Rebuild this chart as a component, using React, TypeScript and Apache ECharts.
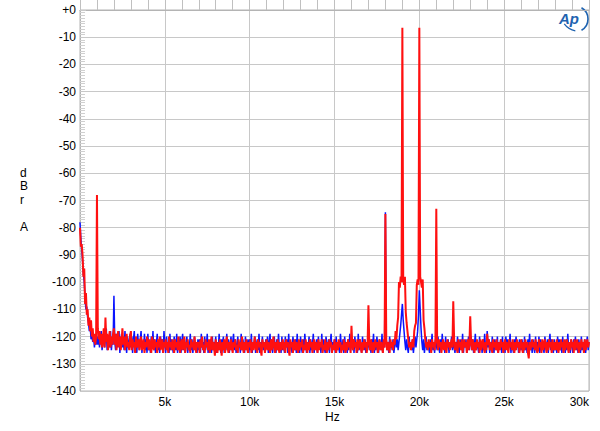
import React, { useEffect, useRef } from "react";
import * as echarts from "echarts";

// Frequency step of the FFT arrays (Hz); each array index i is at i * STEP_HZ
const STEP_HZ = 50;

const X_TICKS = [5000, 10000, 15000, 20000, 25000, 30000];

// Red channel (dBrA), 0 Hz .. 30 kHz, 50 Hz apart (20 values per kHz row)
const redDb: number[] = [
  -80, -87, -86, -90, -98, -95, -108, -104, -112, -110, -116, -113, -118, -114, -120, -117, -122, -119, -123, -120,
  -68, -117, -121, -118, -123, -119, -124, -121, -117, -124, -113, -122, -119, -125, -121, -118, -124, -120, -123, -119,
  -117, -123, -119, -125, -121, -118, -124, -120, -125, -122, -117, -123, -120, -125, -121, -119, -124, -122, -125, -120,
  -118, -125, -121, -124, -122, -126, -120, -124, -123, -121, -125, -122, -120, -125, -123, -121, -126, -122, -124, -120,
  -122, -125, -121, -124, -126, -120, -123, -125, -121, -124, -122, -126, -121, -124, -120, -125, -123, -121, -126, -122,
  -124, -121, -125, -122, -126, -120, -124, -122, -125, -121, -123, -126, -121, -124, -122, -125, -120, -124, -126, -122,
  -121, -125, -123, -120, -126, -122, -124, -121, -125, -123, -126, -121, -124, -122, -125, -120, -124, -126, -122, -124,
  -122, -126, -121, -124, -120, -125, -123, -126, -121, -124, -122, -125, -121, -126, -123, -120, -125, -122, -124, -127,
  -121, -124, -126, -122, -125, -121, -124, -127, -122, -125, -121, -126, -123, -120, -124, -126, -122, -125, -121, -124,
  -126, -122, -124, -121, -125, -123, -126, -121, -124, -122, -125, -120, -124, -126, -122, -125, -121, -124, -126, -122,
  -124, -121, -126, -122, -125, -123, -120, -125, -122, -126, -121, -124, -122, -125, -127, -121, -124, -122, -126, -123,
  -121, -125, -122, -124, -126, -121, -125, -123, -120, -124, -126, -122, -125, -121, -124, -126, -122, -125, -123, -121,
  -125, -122, -126, -121, -124, -122, -125, -127, -121, -124, -122, -126, -123, -121, -125, -122, -124, -126, -121, -125,
  -122, -124, -121, -126, -123, -125, -121, -124, -126, -122, -125, -121, -124, -122, -126, -123, -121, -125, -122, -124,
  -126, -121, -125, -122, -124, -121, -126, -123, -125, -121, -124, -126, -122, -125, -121, -124, -122, -126, -123, -125,
  -121, -124, -126, -122, -125, -121, -124, -122, -126, -123, -125, -121, -124, -126, -122, -125, -121, -124, -122, -126,
  -116, -123, -125, -121, -124, -122, -126, -121, -125, -123, -121, -124, -126, -122, -125, -121, -124, -122, -126, -123,
  -108.5, -122, -125, -121, -124, -126, -122, -125, -121, -124, -122, -126, -123, -121, -125, -122, -124, -126, -121, -124,
  -75, -121, -125, -122, -124, -126, -121, -124, -122, -125, -121, -123, -118, -121, -116, -113, -100, -102, -98, -100,
  -6.5, -99, -101, -98, -111, -115, -118, -121, -124, -122, -125, -123, -121, -124, -118, -116, -115, -101, -99, -101,
  -6.5, -98, -100, -102, -99, -114, -117, -121, -124, -122, -125, -121, -124, -122, -126, -121, -124, -122, -125, -121,
  -73, -122, -125, -121, -124, -122, -126, -123, -121, -125, -122, -124, -126, -121, -124, -122, -125, -123, -121, -124,
  -107, -121, -125, -122, -124, -126, -121, -124, -122, -125, -121, -126, -123, -121, -124, -122, -126, -121, -125, -123,
  -112.5, -122, -125, -121, -124, -126, -122, -125, -121, -124, -122, -126, -121, -125, -123, -121, -124, -126, -122, -125,
  -119, -123, -121, -125, -122, -124, -126, -121, -124, -122, -125, -121, -124, -126, -122, -125, -121, -124, -122, -126,
  -123, -121, -125, -122, -124, -126, -121, -124, -122, -125, -121, -124, -126, -122, -125, -121, -124, -122, -126, -123,
  -121, -124, -126, -122, -125, -121, -124, -122, -126, -128, -122, -125, -123, -121, -124, -122, -125, -121, -124, -126,
  -125, -121, -124, -122, -126, -121, -125, -123, -121, -124, -126, -122, -125, -121, -124, -122, -126, -121, -124, -125,
  -122, -125, -121, -124, -126, -122, -125, -121, -124, -122, -126, -121, -125, -123, -121, -124, -126, -122, -125, -121,
  -124, -122, -126, -121, -125, -123, -121, -124, -126, -122, -125, -121, -124, -122, -126, -121, -125, -123, -121, -124,
  -122,
];

// Blue channel (dBrA), 0 Hz .. 30 kHz, 50 Hz apart (20 values per kHz row)
const blueDb: number[] = [
  -78, -84, -88, -92, -97, -100, -106, -110, -109, -113, -115, -118, -116, -121, -119, -122, -120, -124, -121, -123,
  -120, -123, -119, -124, -121, -118, -125, -122, -119, -124, -121, -117, -125, -122, -120, -124, -118, -125, -121, -123,
  -105, -122, -125, -119, -124, -121, -118, -126, -122, -119, -124, -121, -125, -118, -123, -126, -120, -124, -122, -119,
  -124, -120, -126, -121, -118, -125, -122, -126, -119, -123, -125, -121, -118, -126, -122, -124, -119, -125, -121, -126,
  -119, -125, -122, -126, -120, -124, -118, -125, -121, -126, -123, -119, -125, -122, -126, -120, -124, -121, -126, -118,
  -123, -126, -120, -124, -122, -126, -119, -125, -121, -124, -126, -120, -123, -125, -119, -126, -122, -124, -120, -126,
  -122, -119, -125, -121, -126, -123, -120, -126, -122, -124, -119, -125, -121, -126, -123, -120, -125, -122, -126, -121,
  -125, -121, -126, -119, -124, -122, -126, -120, -125, -123, -119, -126, -122, -124, -121, -126, -120, -125, -122, -124,
  -120, -126, -122, -125, -119, -124, -126, -121, -123, -120, -126, -122, -125, -119, -124, -121, -126, -123, -120, -125,
  -122, -119, -125, -121, -126, -123, -120, -124, -122, -126, -119, -125, -121, -124, -126, -120, -123, -125, -121, -126,
  -121, -125, -119, -126, -122, -124, -120, -126, -123, -121, -125, -119, -126, -122, -124, -120, -125, -122, -126, -121,
  -124, -120, -126, -122, -119, -125, -121, -126, -123, -120, -124, -126, -121, -125, -119, -124, -122, -126, -120, -125,
  -122, -126, -120, -124, -121, -126, -119, -125, -122, -124, -126, -120, -123, -125, -121, -126, -119, -124, -122, -126,
  -120, -124, -126, -121, -125, -119, -123, -126, -122, -124, -120, -126, -121, -125, -123, -119, -126, -122, -124, -121,
  -126, -120, -124, -122, -126, -119, -125, -121, -124, -126, -120, -123, -125, -121, -126, -122, -119, -125, -122, -124,
  -121, -126, -120, -125, -122, -124, -126, -119, -123, -125, -121, -126, -120, -124, -122, -126, -121, -125, -119, -124,
  -122, -125, -121, -126, -120, -124, -122, -126, -119, -125, -121, -124, -126, -120, -123, -125, -121, -126, -122, -124,
  -120, -125, -122, -126, -121, -124, -119, -126, -122, -125, -120, -124, -126, -121, -123, -125, -119, -126, -122, -124,
  -74.3, -121, -125, -122, -126, -120, -124, -122, -125, -121, -126, -123, -120, -124, -121, -125, -122, -119, -116, -112,
  -108, -114, -118, -122, -125, -121, -124, -126, -120, -124, -122, -125, -121, -126, -123, -120, -124, -121, -118, -112,
  -103, -110, -117, -122, -125, -121, -126, -123, -120, -125, -122, -124, -126, -121, -124, -119, -125, -122, -126, -121,
  -123, -125, -120, -124, -126, -121, -125, -119, -124, -122, -126, -120, -125, -123, -121, -126, -122, -124, -120, -125,
  -121, -124, -126, -122, -125, -120, -124, -126, -121, -123, -125, -119, -126, -122, -124, -121, -126, -123, -120, -125,
  -122, -120, -125, -121, -126, -123, -119, -125, -122, -124, -126, -120, -124, -122, -126, -121, -125, -119, -124, -126,
  -118, -124, -121, -126, -122, -125, -120, -124, -126, -121, -123, -125, -120, -126, -122, -124, -121, -126, -120, -125,
  -122, -126, -120, -124, -121, -125, -123, -119, -126, -122, -124, -126, -121, -125, -120, -124, -122, -126, -121, -124,
  -125, -121, -124, -126, -120, -125, -122, -126, -121, -124, -119, -125, -122, -126, -121, -124, -126, -120, -125, -122,
  -124, -120, -126, -121, -125, -122, -124, -126, -120, -123, -125, -121, -126, -122, -119, -125, -121, -124, -126, -121,
  -125, -122, -126, -120, -124, -121, -125, -123, -126, -120, -124, -122, -126, -121, -125, -119, -124, -122, -126, -121,
  -123, -126, -121, -124, -120, -125, -122, -126, -121, -124, -126, -120, -125, -122, -124, -121, -126, -123, -120, -125,
  -122,
];

const toPairs = (arr: number[]) => arr.map((v, i) => [i * STEP_HZ, v]);

const FONT = "'Liberation Sans', Arial, sans-serif";

export default function App() {
  const ref = useRef<HTMLDivElement>(null);

  useEffect(() => {
    document.body.style.margin = "0";
    if (!ref.current) return;
    const chart = echarts.init(ref.current, undefined, { renderer: "svg" });
    const gridColor = "#c8c8c8";
    chart.setOption({
      animation: false,
      backgroundColor: "#ffffff",
      textStyle: { fontFamily: FONT },
      grid: {
        left: 80,
        right: 11,
        top: 10,
        bottom: 40,
        show: true,
        borderColor: "#b4b4b4",
        borderWidth: 1,
        backgroundColor: "transparent",
      },
      xAxis: {
        type: "value",
        min: 0,
        max: 30000,
        interval: 5000,
        axisLine: { show: true, lineStyle: { color: "#b4b4b4" } },
        axisTick: {
          show: true,
          inside: true,
          length: 14,
          lineStyle: { color: "#c0c0c0", width: 1 },
        },
        minorTick: {
          show: true,
          splitNumber: 5,
          length: 14,
          lineStyle: { color: "#c0c0c0", width: 1 },
        },
        splitLine: { show: true, lineStyle: { color: gridColor, width: 1 } },
        axisLabel: {
          color: "#000",
          fontSize: 12,
          fontFamily: FONT,
          margin: 5,
          alignMaxLabel: "right",
          showMinLabel: false,
          formatter: (v: number) => (X_TICKS.includes(v) ? `${v / 1000}k` : ""),
        },
      },
      yAxis: {
        type: "value",
        min: -140,
        max: 0,
        interval: 10,
        axisLine: { show: true, lineStyle: { color: "#b4b4b4" } },
        axisTick: {
          show: true,
          inside: true,
          length: 6,
          lineStyle: { color: "#c8c8c8" },
        },
        minorTick: {
          show: true,
          splitNumber: 10,
          length: 5,
          lineStyle: { color: "#d0d0d0", width: 1 },
        },
        splitLine: { show: true, lineStyle: { color: gridColor, width: 1 } },
        axisLabel: {
          color: "#000",
          fontSize: 12,
          fontFamily: FONT,
          margin: 4,
          formatter: (v: number) => (v === 0 ? "+0" : String(v)),
        },
      },
      series: [
        {
          name: "Left",
          type: "line",
          data: toPairs(blueDb),
          showSymbol: false,
          lineStyle: { color: "#0a14ff", width: 1.5 },
          itemStyle: { color: "#0a14ff" },
          z: 2,
        },
        {
          name: "Right",
          type: "line",
          data: toPairs(redDb),
          showSymbol: false,
          lineStyle: { color: "#ff1010", width: 2 },
          itemStyle: { color: "#ff1010" },
          z: 3,
        },
      ],
      graphic: [
        {
          type: "text",
          left: 20,
          top: 166,
          style: {
            text: "d\nB\nr\n\nA",
            font: `12px ${FONT}`,
            fill: "#000",
            lineHeight: 13.5,
            align: "center",
          },
        },
        {
          type: "text",
          left: 325,
          top: 411,
          style: { text: "Hz", font: `12px ${FONT}`, fill: "#000" },
        },
        {
          type: "text",
          left: 559,
          top: 11,
          style: {
            text: "Ap",
            font: `italic bold 15px ${FONT}`,
            fill: "#1f63b0",
          },
        },
        {
          type: "arc",
          shape: {
            cx: 575,
            cy: 19,
            r: 13,
            startAngle: -Math.PI / 3,
            endAngle: Math.PI / 3,
          },
          style: { stroke: "#1f63b0", lineWidth: 1.6, fill: "none" },
        },
        {
          type: "arc",
          shape: {
            cx: 578,
            cy: 14,
            r: 17,
            startAngle: Math.PI * 0.55,
            endAngle: Math.PI * 0.8,
          },
          style: { stroke: "#1f63b0", lineWidth: 1.3, fill: "none" },
        },
      ],
    });
    return () => chart.dispose();
  }, []);

  return <div ref={ref} style={{ width: 600, height: 431 }} />;
}
